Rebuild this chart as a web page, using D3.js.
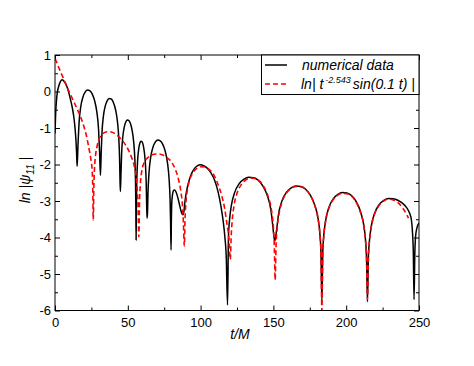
<!DOCTYPE html>
<html><head><meta charset="utf-8">
<script src="https://cdn.jsdelivr.net/npm/d3@7"></script>
<style>body{margin:0;background:#fff}</style>
</head><body><svg id="c" width="474" height="366"></svg>
<script>
const xTicks=[0,50,100,150,200,250];
const xMinor=[25,75,125,175,225];
const yTicks=[-6,-5,-4,-3,-2,-1,0,1];
const yMinor=[-5.5,-4.5,-3.5,-2.5,-1.5,-0.5,0.5];
const seriesNames=["numerical data","fit"];

// numerical data: [t/M, ln|psi11|]
const numerical=[
[0,-1.15],[0.5,-0.55],[1,-0.25],[1.5,-0.05],[2.6,0.15],[3.8,0.28],[4.9,0.32],[6,0.29],[7.2,0.22],[8.4,0.11],[9.6,-0.05],[10.7,-0.23],[12,-0.47],[13,-0.72],[13.8,-1.02],[14.4,-1.35],[14.8,-1.65],[15.2,-2.05],
[15.84,-1.42],[16.48,-0.88],[17.6,-0.44],[19.2,-0.15],[20.8,-0.01],[22.4,0.04],[24,0.02],[25.6,-0.07],[27.2,-0.25],[28.8,-0.58],[29.92,-1.04],[30.56,-1.6],[31.2,-2.3],
[31.75,-1.65],[32.3,-1.11],[33.26,-0.67],[34.63,-0.38],[36,-0.24],[37.37,-0.19],[38.74,-0.21],[40.1,-0.3],[41.48,-0.48],[42.85,-0.81],[43.8,-1.27],[44.35,-1.83],[44.63,-2.39],[44.9,-2.74],
[45.33,-2.24],[45.76,-1.7],[46.52,-1.26],[47.6,-0.97],[48.68,-0.83],[49.76,-0.78],[50.84,-0.8],[51.92,-0.89],[53,-1.07],[54.08,-1.4],[54.84,-1.86],[55.27,-2.42],[55.48,-2.98],[55.7,-4.07],
[55.85,-3.36],[56,-2.82],[56.3,-2.28],[56.83,-1.84],[57.58,-1.55],[58.33,-1.41],[59.08,-1.36],[59.83,-1.38],[60.58,-1.47],[61.33,-1.65],[62.08,-1.98],[62.6,-2.44],[62.9,-3.0],[63.2,-3.47],
[63.53,-3.33],[63.86,-2.79],[64.52,-2.25],[65.68,-1.81],[67.33,-1.52],[68.98,-1.38],[70.63,-1.33],[72.28,-1.35],[73.93,-1.44],[75.58,-1.62],[77.23,-1.95],[78.38,-2.41],[79.04,-2.97],[79.37,-3.53],[79.7,-4.34],
[79.9,-3.6],[80.2,-3.05],[80.8,-2.8],[81.5,-2.71],[82.2,-2.7],[83.2,-2.76],[84.3,-2.9],[85.5,-3.1],[86.6,-3.28],[87.4,-3.36],[87.9,-3.38],[88.5,-3.3],[89.3,-3.0],[90.5,-2.7],[92,-2.45],[94,-2.23],[96,-2.1],[98,-2.03],[99.8,-2.01],[102,-2.03],[104.5,-2.1],[107,-2.22],[109.5,-2.42],[112,-2.75],[114,-3.15],[115.5,-3.55],[116.7,-4.0],[117.6,-4.5],[118.5,-5.85],
[119.15,-3.95],[119.8,-3.55],[121.09,-3.13],[123.36,-2.77],[126.6,-2.52],[129.84,-2.4],[133.08,-2.35],[136.32,-2.36],[139.56,-2.43],[142.8,-2.59],[146.04,-2.88],[148.31,-3.25],[149.6,-3.69],[150.9,-4.1],
[152.2,-3.79],[153.49,-3.37],[155.76,-3.01],[159,-2.76],[162.24,-2.64],[165.48,-2.59],[168.72,-2.6],[171.96,-2.67],[175.2,-2.83],[178.44,-3.12],[180.71,-3.49],[182,-3.93],[182.65,-4.39],[183.3,-5.75],
[183.93,-4.37],[184.55,-3.97],[185.8,-3.55],[188,-3.19],[191.13,-2.94],[194.26,-2.82],[197.39,-2.77],[200.52,-2.78],[203.65,-2.85],[206.78,-3.01],[209.9,-3.3],[212.1,-3.67],[213.35,-4.11],[213.97,-4.57],[214.6,-5.76],
[215.24,-4.53],[215.88,-4.13],[217.16,-3.71],[219.4,-3.35],[222.6,-3.1],[225.8,-2.98],[229,-2.93],[232.2,-2.94],[235.4,-2.98],[238.6,-3.06],[241.5,-3.18],[243.5,-3.33],[244.8,-3.52],[245.6,-3.9],[246.1,-4.4],[246.6,-5.7],
[247.1,-4.5],[247.7,-3.95],[248.5,-3.75],[250,-3.6]
];

// ln| t^-2.543 sin(0.1 t) | curve: [t/M, value]
const fit=[
[0,0.9],[2,0.72],[4,0.52],[6,0.34],[8,0.15],[10,-0.03],[12,-0.2],[14,-0.37],[16,-0.55],[18,-0.74],[20,-0.98],[21.5,-1.2],[22.8,-1.45],[23.9,-1.68],[24.8,-1.9],[25.5,-2.15],[25.9,-2.6],[26.3,-3.52],
[26.7,-2.6],[27.3,-2.0],[28,-1.7],[28.9,-1.5],[30,-1.33],[31.5,-1.22],[33,-1.15],[35,-1.11],[37,-1.1],[39.5,-1.12],[42,-1.18],[44.5,-1.27],[47,-1.38],[49,-1.5],[51,-1.65],[53,-1.85],[54.5,-2.05],[55.6,-2.3],[56.4,-2.65],[57,-3.1],[57.6,-3.98],
[58,-3.1],[58.6,-2.55],[59.5,-2.2],[61,-1.97],[63,-1.84],[65.5,-1.76],[68,-1.72],[71,-1.71],[74,-1.74],[77,-1.82],[80,-1.93],[82.5,-2.12],[84.9,-2.42],[86.5,-2.75],[87.5,-3.1],[88.2,-3.6],[88.8,-4.23],
[89.3,-3.5],[90,-3.0],[91,-2.68],[92.5,-2.42],[94.5,-2.24],[97,-2.12],[100,-2.06],[103,-2.07],[106,-2.14],[109,-2.28],[112,-2.55],[114.5,-2.85],[116.5,-3.2],[118,-3.6],[119.4,-4.0],[120.4,-4.6],
[121,-3.97],[121.63,-3.57],[122.86,-3.15],[125.02,-2.79],[128.1,-2.54],[131.18,-2.42],[134.26,-2.37],[137.34,-2.38],[140.42,-2.45],[143.5,-2.61],[146.58,-2.9],[148.74,-3.27],[149.97,-3.71],[150.58,-4.17],[151.2,-5.16],
[151.84,-4.2],[152.48,-3.8],[153.77,-3.38],[156,-3.02],[159.2,-2.77],[162.4,-2.65],[165.6,-2.6],[168.86,-2.61],[172.07,-2.68],[175.28,-2.84],[178.5,-3.13],[180.73,-3.5],[182,-3.94],[182.66,-4.4],[183.3,-6.0],
[183.93,-4.39],[184.55,-3.99],[185.8,-3.57],[188,-3.21],[191.13,-2.96],[194.26,-2.84],[197.39,-2.79],[200.52,-2.8],[203.65,-2.87],[206.78,-3.03],[209.9,-3.32],[212.1,-3.69],[213.35,-4.13],[213.97,-4.59],[214.6,-5.7],
[215.24,-4.55],[215.88,-4.15],[217.16,-3.73],[219.4,-3.37],[222.6,-3.12],[225.8,-3.0],[229,-2.95],[232.2,-2.97],[235.4,-3.04],[238.6,-3.18],[241,-3.33],[242.8,-3.47]
];

const W=474,H=366;
const L=55,R=419,T=55,B=310.5;
const svg=d3.select('#c');
const x=d3.scaleLinear().domain([0,250]).range([L,R]);
const y=d3.scaleLinear().domain([-6,1]).range([B,T]);
const font='"Liberation Sans", Arial, sans-serif';

svg.append('defs').append('clipPath').attr('id','clip')
  .append('rect').attr('x',L).attr('y',T).attr('width',R-L).attr('height',B-T);

function styleAxis(g){
  g.select('.domain').remove();
  g.selectAll('line').attr('stroke','#000').attr('stroke-width',1);
  g.selectAll('text').attr('font-family',font).attr('font-size',13).attr('fill','#000');
}
// bottom
svg.append('g').attr('transform',`translate(0,${B})`)
  .call(d3.axisBottom(x).tickValues(xTicks).tickSizeInner(-5).tickSizeOuter(0).tickPadding(7).tickFormat(d3.format('d')))
  .call(styleAxis);
svg.append('g').attr('transform',`translate(0,${B})`)
  .call(d3.axisBottom(x).tickValues(xMinor).tickSizeInner(-3).tickSizeOuter(0).tickFormat(''))
  .call(styleAxis);
// top
svg.append('g').attr('transform',`translate(0,${T})`)
  .call(d3.axisTop(x).tickValues(xTicks).tickSizeInner(-5).tickSizeOuter(0).tickFormat(''))
  .call(styleAxis);
svg.append('g').attr('transform',`translate(0,${T})`)
  .call(d3.axisTop(x).tickValues(xMinor).tickSizeInner(-3).tickSizeOuter(0).tickFormat(''))
  .call(styleAxis);
// left
svg.append('g').attr('transform',`translate(${L},0)`)
  .call(d3.axisLeft(y).tickValues(yTicks).tickSizeInner(-5).tickSizeOuter(0).tickPadding(4).tickFormat(d3.format('d')))
  .call(styleAxis);
svg.append('g').attr('transform',`translate(${L},0)`)
  .call(d3.axisLeft(y).tickValues(yMinor).tickSizeInner(-3).tickSizeOuter(0).tickFormat(''))
  .call(styleAxis);
// right
svg.append('g').attr('transform',`translate(${R},0)`)
  .call(d3.axisRight(y).tickValues(yTicks).tickSizeInner(-5).tickSizeOuter(0).tickFormat(''))
  .call(styleAxis);
svg.append('g').attr('transform',`translate(${R},0)`)
  .call(d3.axisRight(y).tickValues(yMinor).tickSizeInner(-3).tickSizeOuter(0).tickFormat(''))
  .call(styleAxis);

// fix tick label glyph minus sign to hyphen like the original
svg.selectAll('.tick text').text(function(){return this.textContent.replace('\u2212','-');});

const line=d3.line().x(d=>x(d[0])).y(d=>y(d[1])).curve(d3.curveMonotoneX);
const plot=svg.append('g').attr('clip-path','url(#clip)');
plot.append('path').datum(numerical).attr('d',line)
  .attr('fill','none').attr('stroke','#000').attr('stroke-width',1.5).attr('stroke-linejoin','round');
plot.append('path').datum(fit).attr('d',line)
  .attr('fill','none').attr('stroke','#ff0000').attr('stroke-width',1.6).attr('stroke-dasharray','5,3');

// frame
svg.append('rect').attr('x',L).attr('y',T).attr('width',R-L).attr('height',B-T)
  .attr('fill','none').attr('stroke','#000').attr('stroke-width',1);

// legend
const lg=svg.append('g');
lg.append('rect').attr('x',261.5).attr('y',T).attr('width',R-261.5).attr('height',39.5)
  .attr('fill','#fff').attr('stroke','#000').attr('stroke-width',1);
lg.append('line').attr('x1',265).attr('x2',287).attr('y1',65).attr('y2',65)
  .attr('stroke','#000').attr('stroke-width',1.5);
lg.append('line').attr('x1',265).attr('x2',287).attr('y1',84).attr('y2',84)
  .attr('stroke','#ff0000').attr('stroke-width',1.6).attr('stroke-dasharray','5,3');
lg.append('text').attr('x',302).attr('y',70).attr('font-family',font).attr('font-style','italic')
  .attr('font-size',14).text(seriesNames[0]);
const t2=lg.append('text').attr('x',301).attr('y',89).attr('font-family',font).attr('font-style','italic').attr('font-size',14);
t2.append('tspan').text('ln| t');
t2.append('tspan').attr('font-size',9).attr('dy',-6).attr('dx',2).text('-2.543');
t2.append('tspan').attr('dy',6).attr('dx',2).text('sin(0.1 t) |');

// axis titles
svg.append('text').attr('x',240).attr('y',339).attr('text-anchor','middle')
  .attr('font-family',font).attr('font-style','italic').attr('font-size',14).text('t/M');
const yl=svg.append('text').attr('transform','translate(30,180) rotate(-90)').attr('text-anchor','middle')
  .attr('font-family',font).attr('font-style','italic').attr('font-size',14);
yl.append('tspan').text('ln |ψ');
yl.append('tspan').attr('font-size',10).attr('dy',4).text('11');
yl.append('tspan').attr('dy',-4).text(' |');
</script></body></html>
